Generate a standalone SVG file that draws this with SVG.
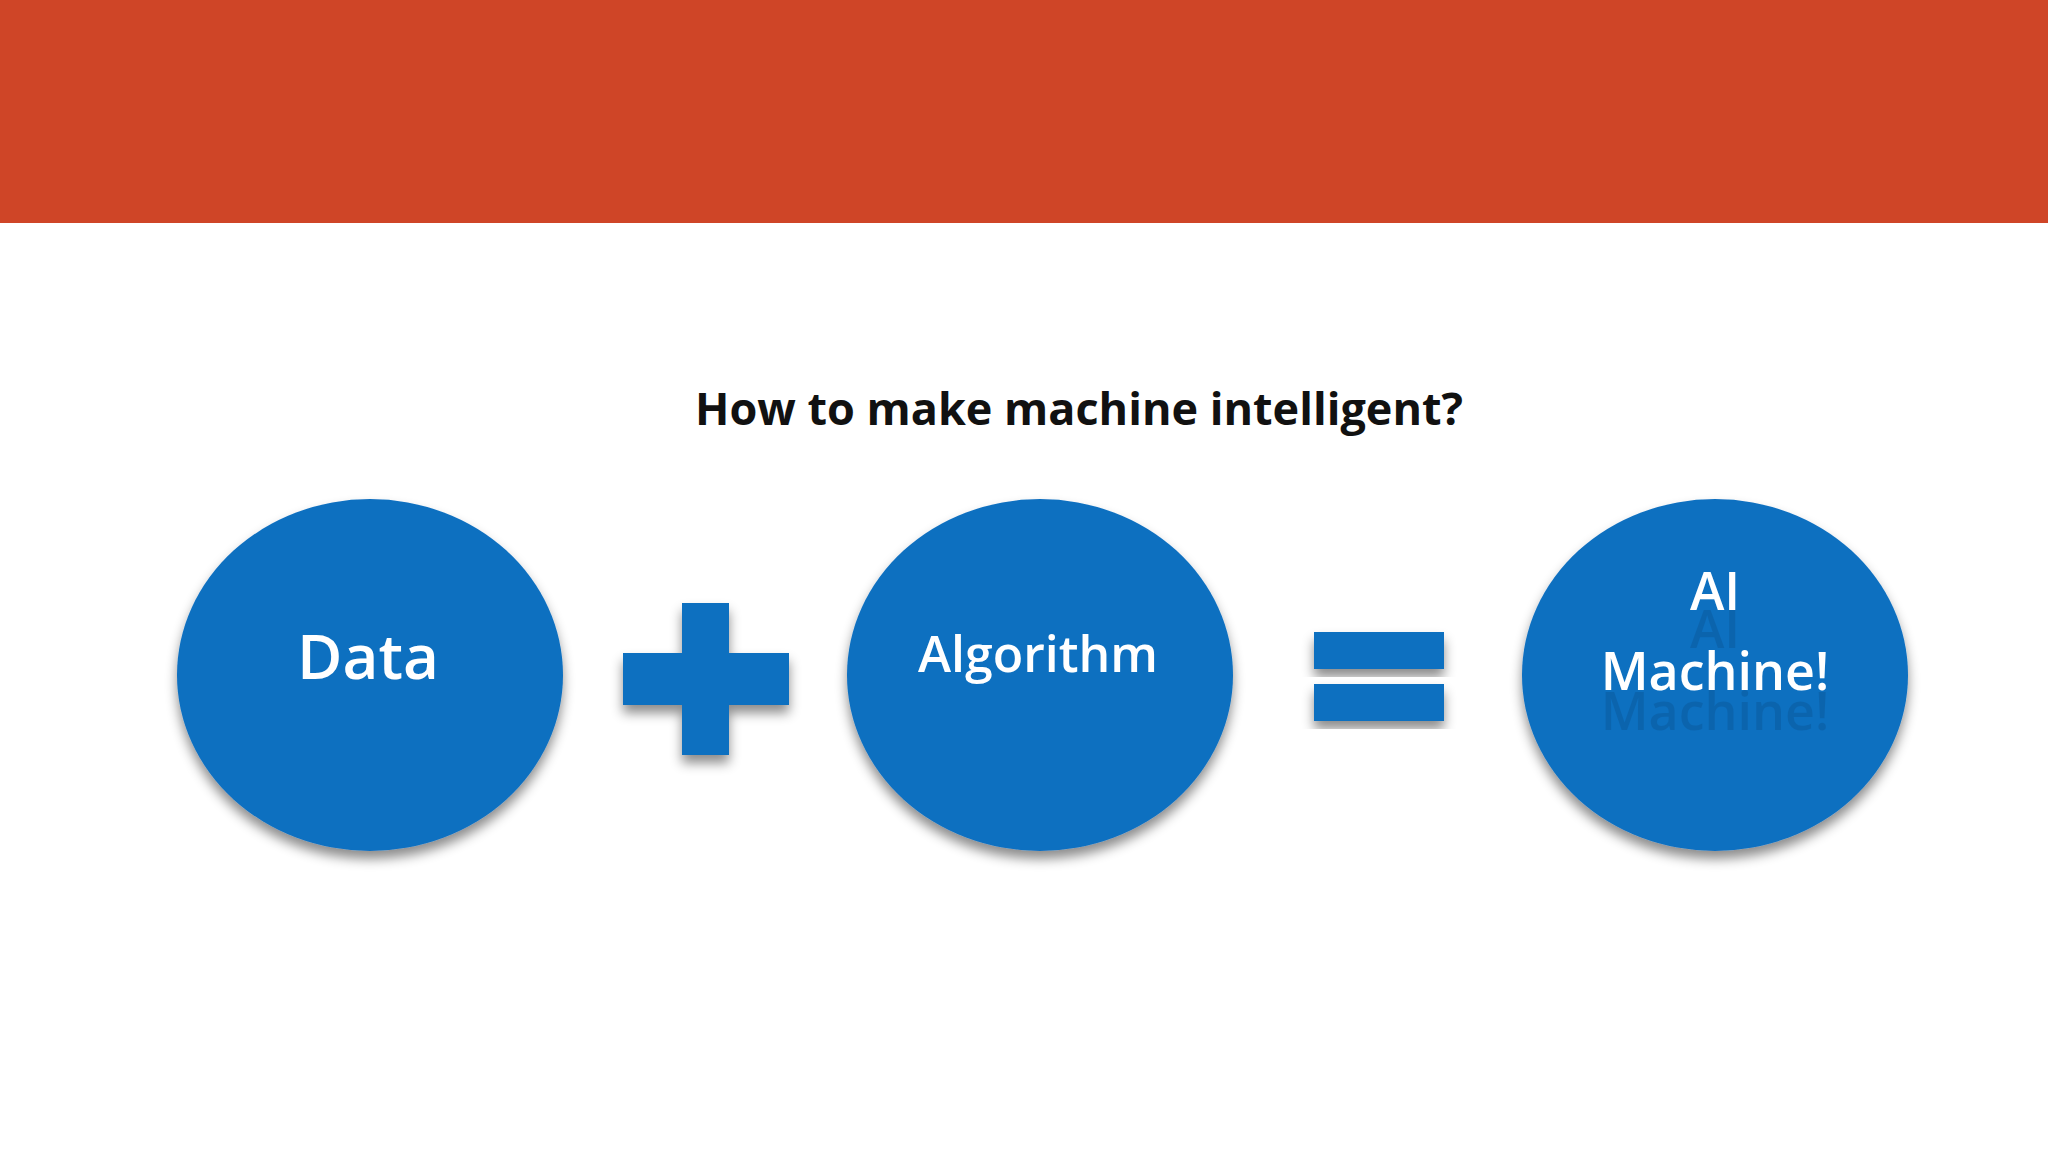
<svg xmlns="http://www.w3.org/2000/svg" width="2048" height="1152" viewBox="0 0 2048 1152">
<defs>
<style>
.c{fill:#0E6FC0;filter:url(#sh)}
.t{fill:#fff;font-family:"Open Sans","Liberation Sans",sans-serif;text-anchor:middle;font-weight:600}
.g{fill:#0A4F8C;font-family:"Open Sans","Liberation Sans",sans-serif;text-anchor:middle;font-size:52px;font-weight:600;opacity:0.35}
</style>
<filter id="sh" x="-20%" y="-20%" width="140%" height="140%">
<feDropShadow dx="0" dy="8" stdDeviation="6" flood-color="#000" flood-opacity="0.45"/>
</filter>
</defs>
<rect width="2048" height="1152" fill="#fff"/>
<rect width="2048" height="223" fill="#CF4527"/>
<text x="1079" y="425" font-family="'Open Sans','Liberation Sans',sans-serif" font-weight="bold" font-size="45" text-anchor="middle" fill="#111">How to make machine intelligent?</text>
<g id="data"><ellipse class="c" cx="370" cy="675" rx="193" ry="176"/><text class="t" x="368" y="679" font-size="62">Data</text></g>
<g id="plus"><path class="c" d="M682 603h47v50h60v52h-60v50h-47v-50h-59v-52h59z"/></g>
<g id="algorithm"><ellipse class="c" cx="1040" cy="675" rx="193" ry="176"/><text class="t" x="1038" y="672" font-size="50">Algorithm</text></g>
<g id="equals"><rect class="c" x="1314" y="632" width="130" height="37"/><rect class="c" x="1314" y="684" width="130" height="37"/></g>
<g id="ai"><ellipse class="c" cx="1715" cy="675" rx="193" ry="176"/>
<text class="g" x="1715" y="648">AI</text><text class="g" x="1715" y="730">Machine!</text>
<text class="t" x="1715" y="610" font-size="52">AI</text><text class="t" x="1715" y="690" font-size="52">Machine!</text></g>
<g id="connectors"/>
</svg>
